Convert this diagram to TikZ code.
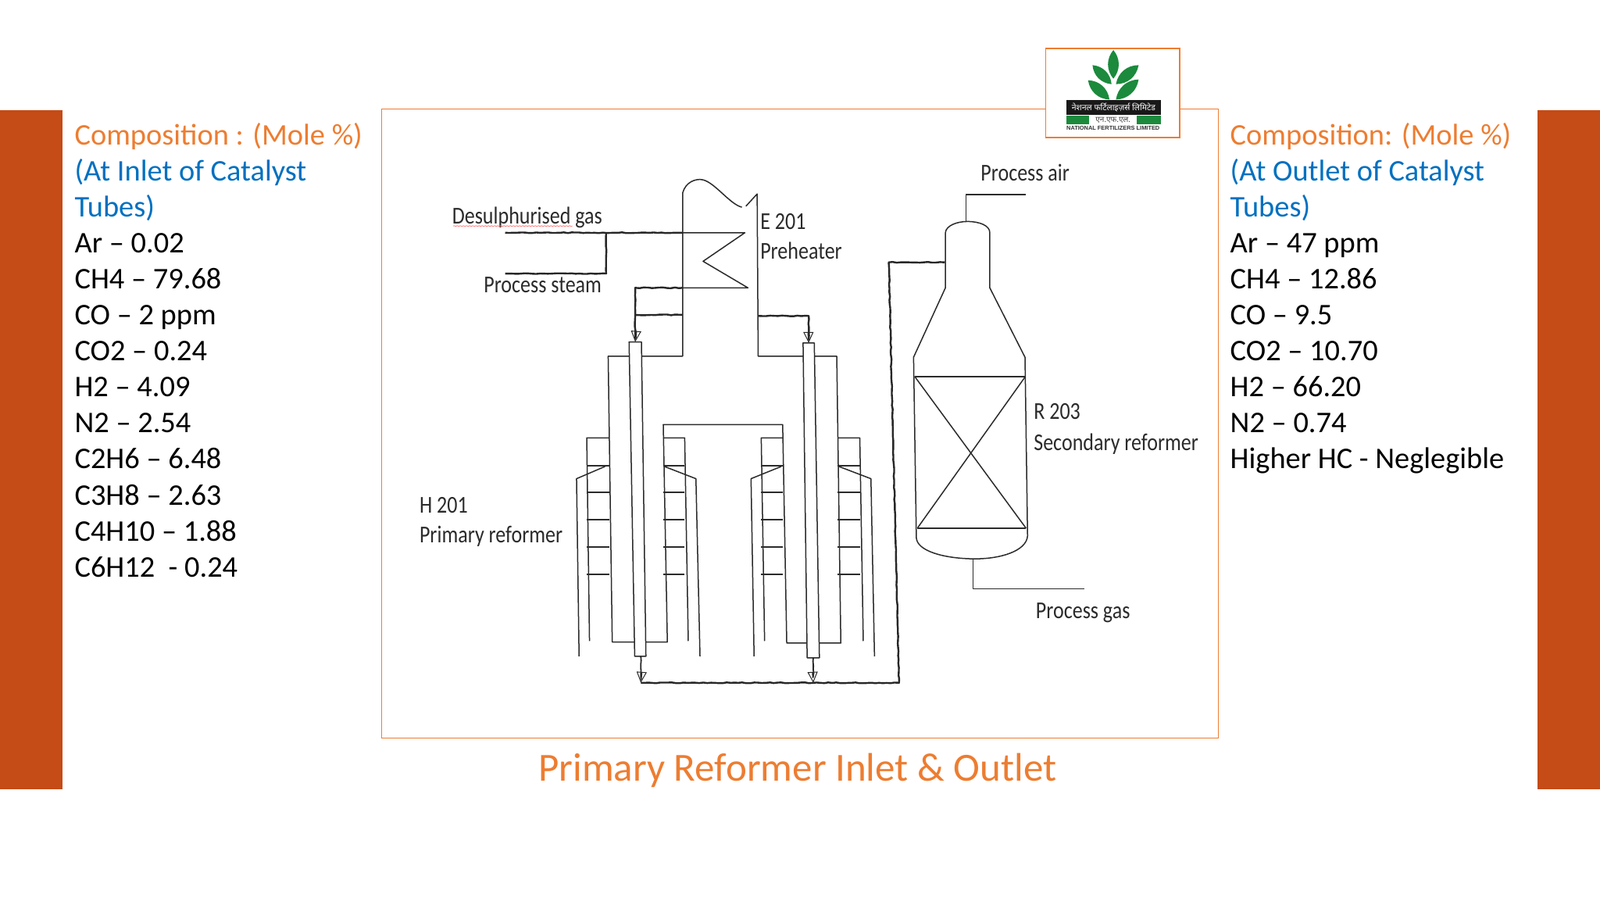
\documentclass[tikz,border=0pt]{standalone}
\usepackage{fontspec}
\usepackage{xcolor}
\usepackage{tikz}
\usetikzlibrary{calc,arrows.meta,decorations.pathmorphing}
\setmainfont{Carlito}
\newfontfamily\diagfont[FakeStretch=0.84]{Carlito}
\newfontfamily\logofont[Script=Devanagari]{Noto Sans}
\newfontfamily\logosans{Liberation Sans}
\definecolor{barrust}{HTML}{C54B17}
\definecolor{framex}{HTML}{ED7D31}
\definecolor{bluex}{HTML}{0070C0}
\definecolor{inkx}{HTML}{2B2B2B}
\definecolor{leafx}{HTML}{1B8A3C}
\tikzset{
  wall/.style={draw=inkx,line width=1.5pt,line join=round},
  flow/.style={draw=inkx!90!black,line width=2.4pt,line join=round,decorate,decoration={random steps,segment length=5pt,amplitude=.5pt}},
  tube/.style={wall,fill=white},
  ar/.style={-{Triangle[open,length=14pt,width=13pt,line width=1pt]}},
  lbl/.style={anchor=base west,inner sep=0pt,text=inkx,font=\diagfont\fontsize{31}{34}\selectfont},
  listbox/.style={anchor=north west,inner sep=0pt,align=left,font=\fontsize{38.4}{46.1}\selectfont},
  leaf/.style={fill=leafx,draw=none}
}
\newcommand{\logoleaf}[2]{\fill[leaf] (#1) to[bend left=40] (#2) to[bend left=40] (#1) -- cycle;}
\begin{document}
\begin{tikzpicture}[x=1.30612pt,y=-1.30612pt]
\useasboundingbox (0,0) rectangle (1568,882);
\fill[white] (0,0) rectangle (1568,882);
% side bars and frame
\fill[barrust] (0,108) rectangle (61.5,773);
\fill[barrust] (1507,108) rectangle (1568,773);
\draw[framex,line width=1.4pt] (374,107) rectangle (1194,723);
% text columns
\node[listbox] (inletlist) at (73,120) {\textcolor{framex}{Composition : (Mole \%)}\\
\textcolor{bluex}{(At Inlet of Catalyst}\\
\textcolor{bluex}{Tubes)}\\
Ar -- 0.02\\CH4 -- 79.68\\CO -- 2 ppm\\CO2 -- 0.24\\H2 -- 4.09\\N2 -- 2.54\\C2H6 -- 6.48\\C3H8 -- 2.63\\C4H10 -- 1.88\\C6H12~~- 0.24};
\node[listbox] (outletlist) at (1205.5,120) {\textcolor{framex}{Composition: (Mole \%)}\\
\textcolor{bluex}{(At Outlet of Catalyst}\\
\textcolor{bluex}{Tubes)}\\
Ar -- 47 ppm\\CH4 -- 12.86\\CO -- 9.5\\CO2 -- 10.70\\H2 -- 66.20\\N2 -- 0.74\\Higher HC - Neglegible};
\node[text=framex,font=\fontsize{51}{55}\selectfont,inner sep=0pt] (title) at (781.5,755) {Primary Reformer Inlet \& Outlet};
% preheater and flue path
\draw[wall] (669,349) -- (669,189) .. controls (672,178) and (682,175) .. (688,176) .. controls (700,178) and (715,200) .. (727,203);
\draw[wall] (731,202) -- (742,190) -- (743,349) -- (820,349) -- (824,630) -- (803,630);
\draw[wall] (669,349) -- (596,349) -- (600,629) -- (622,629);
\draw[wall] (633,629) -- (654,629) -- (650,416) -- (767,416) -- (771,630) -- (791,630);
% burner tiers
\foreach \xa/\xb/\xc/\xd/\xe/\xf in {575/597/577.7/593/565/567.5,671/650/674.5/651/682/686,746/767/749.3/765.7/736/739,842.6/821/846/822/853.5/857}{
  \draw[wall] (\xb,429) -- (\xa,429) -- (\xc,628);
  \draw[wall] (\xd,457) -- (\xe,469) -- (\xf,643);
  \foreach \yy in {456.5,482.5,509,536,562.5}{\draw[wall,line width=2pt] (\xa,\yy) -- (\xb,\yy);}
}
% coil and feeds
\coordinate (feedgas) at (495,228);
\coordinate (feedsteam) at (495,268);
\coordinate (coilout) at (622.5,282);
\coordinate (tubeAtop) at (622.5,335);
\coordinate (tubeBtop) at (792.5,336);
\coordinate (bypassA) at (669,308.5);
\coordinate (bypassB) at (743,309.5);
\draw[wall] (669,228) -- (730,228) -- (689,256) -- (733,282) -- (669,282);
\draw[flow] (feedgas) -- (669,228);
\draw[flow] (feedsteam) -- (594,268) -- (594,228);
\draw[flow] (bypassA) -- (622.5,308.5);
\draw[flow,ar] (669,282) -- (coilout) -- (tubeAtop);
\draw[flow,ar] (bypassB) -| (tubeBtop);
% catalyst tubes
\draw[tube] (616.5,335) -- (628.6,335) -- (633,643) -- (622,643) -- cycle;
\draw[tube] (787,336) -- (798,336) -- (803,644.5) -- (791,644.5) -- cycle;
\coordinate (tubeAbot) at (628,643);
\coordinate (tubeBbot) at (797,644.5);
\draw[flow,line width=1.8pt,ar] (tubeAbot) -- (628,669);
\draw[flow,line width=1.8pt,ar] (tubeBbot) -- (797,669);
% transfer line to secondary reformer
\coordinate (reformerin) at (926,257);
\draw[flow] (628,669) -- (881,669) -- (871,257) -- (reformerin);
% secondary reformer
\draw[wall] (953,547.5) .. controls (925,547) and (899,540) .. (898,527) -- (895.3,350) -- (926.5,282) -- (926.5,228) .. controls (927,221) and (938,217) .. (948,217) .. controls (960,217) and (970,221) .. (970,228) -- (970,282) -- (1004.5,350) -- (1007,525) .. controls (1006,540) and (980,548) .. (953,547.5) -- cycle;
\draw[wall] (896.5,369) -- (1004.8,369);
\draw[wall] (899,517.5) -- (1005.5,517.5);
\draw[wall] (896.5,369) -- (1005.5,517.5);
\draw[wall] (1004.8,369) -- (899,517.5);
\coordinate (airin) at (1005,190.5);
\coordinate (gasout) at (1063,577);
\draw[wall] (airin) -- (946.5,190.5) -- (946.5,217);
\draw[wall] (953.5,547.5) -- (953.5,577) -- (gasout);
% labels
\node[lbl] (desgas) at (443,219) {Desulphurised gas};
\draw[red!55,line width=.7pt,decorate,decoration={snake,amplitude=.6pt,segment length=4pt}] (444,221.5) -- (561,221.5);
\node[lbl] (steam) at (474,287) {Process steam};
\node[lbl] (eno) at (745,224.5) {E 201};
\node[lbl] (preheat) at (745,254) {Preheater};
\node[lbl] (air) at (961,177) {Process air};
\node[lbl] (rno) at (1013,411) {R 203};
\node[lbl] (secref) at (1013,441) {Secondary reformer};
\node[lbl] (pgas) at (1015,606) {Process gas};
\node[lbl] (hno) at (411,502.5) {H 201};
\node[lbl] (priref) at (411,532) {Primary reformer};
% logo
\draw[framex,line width=1.4pt,fill=white] (1024.6,47.4) rectangle (1156,134.8);
\begin{scope}[shift={(1010.7,38.3)},x=0.3333pt,y=-0.3333pt]
\logoleaf{315,152}{315,42}
\logoleaf{308,173}{235,100}
\logoleaf{325,173}{412,100}
\logoleaf{300,232}{218,158}
\logoleaf{325,232}{412,155}
\fill[black!90] (135,235) rectangle (497,290);
\fill[leafx] (135,295) rectangle (222,328);
\fill[leafx] (405,295) rectangle (497,328);
\node[text=white,font=\logofont\fontsize{10.5}{12}\selectfont,inner sep=0pt] (logohindi) at (316,263) {नेशनल फर्टिलाइज़र्स लिमिटेड};
\node[text=black!75,font=\logofont\fontsize{10}{12}\selectfont,inner sep=0pt] (logoshort) at (314,312) {एन.एफ.एल.};
\node[text=black!80,font=\logosans\bfseries\fontsize{7.4}{9}\selectfont,inner sep=0pt] (logoname) at (314,343) {NATIONAL FERTILIZERS LIMITED};
\end{scope}
\end{tikzpicture}
\end{document}
